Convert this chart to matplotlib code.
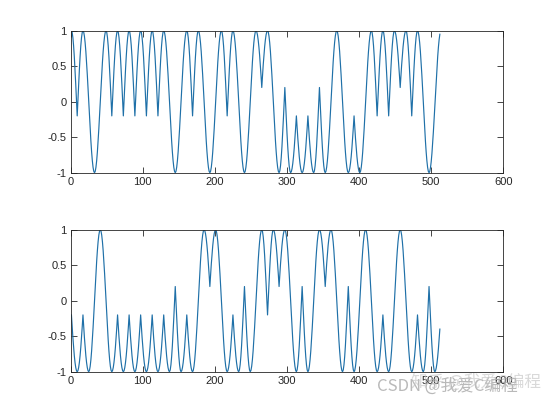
import numpy as np
import matplotlib
matplotlib.use("Agg")
import matplotlib.pyplot as plt

plt.rcParams['axes.unicode_minus'] = False
plt.rcParams['font.family'] = ['Liberation Sans', 'DejaVu Sans']

# Turning points (sample index, value)
top_x = [1, 9, 17, 33, 49, 57, 65, 73, 81, 89, 97, 105, 113, 121, 129, 145, 161, 169,
         177, 193, 209, 217, 225, 241, 257, 265, 273, 289, 297, 305, 313, 321, 329, 337,
         345, 353, 369, 385, 393, 401, 417, 425, 433, 441, 449, 457, 465, 473, 481, 497, 512]
top_y = [1, -0.2, 1, -1, 1, -0.2, 1, -0.2, 1, -0.2, 1, -0.2, 1, -0.2, 1, -1, 1, -0.2,
         1, -1, 1, -0.2, 1, -1, 1, 0.2, 1, -1, 0.2, -1, -0.2, -1, -0.2, -1,
         0.2, -1, 1, -1, -0.2, -1, 1, -0.2, 1, -0.2, 1, 0.2, 1, -0.2, 1, -1, 0.95]

bot_x = [1, 9, 17, 25, 41, 57, 65, 73, 81, 89, 97, 105, 113, 121, 129, 137, 145, 153,
         161, 169, 185, 193, 201, 217, 225, 233, 241, 249, 265, 273, 281, 289, 297, 313,
         321, 329, 345, 353, 361, 377, 385, 393, 409, 425, 433, 441, 457, 473, 481, 489,
         497, 505, 512]
bot_y = [-0.2, -1, -0.2, -1, 1, -1, -0.2, -1, -0.2, -1, -0.2, -1, -0.2, -1, -0.2, -1, 0.2, -1,
         -0.2, -1, 1, 0.2, 1, -1, -0.2, -1, 0.2, -1, 1, -0.2, 1, 0.2, 1, -1,
         0.2, -1, 1, 0.2, 1, -1, 0.2, -1, 1, -1, -0.2, -1, 1, -1, -0.2, -1,
         0.2, -1, -0.4]

x_ticks = [0, 100, 200, 300, 400, 500, 600]
y_ticks = [-1, -0.5, 0, 0.5, 1]
y_ticklabels = ['-1', '-0.5', '0', '0.5', '1']

LINE = '#1f70a8'
AXC = '#262626'


def curve(xs, ys):
    n = np.arange(xs[0], xs[-1] + 1)
    ph = np.arccos(np.clip(ys, -1, 1))
    return n, np.cos(np.interp(n, xs, ph))


fig = plt.figure(figsize=(5.46, 4.07), dpi=100)
ax1 = fig.add_axes([0.1295, 0.5757, 0.7923, 0.3489])
ax2 = fig.add_axes([0.1295, 0.0867, 0.7923, 0.3489])

for ax, xs, ys in ((ax1, top_x, top_y), (ax2, bot_x, bot_y)):
    n, v = curve(xs, ys)
    ax.plot(n, v, color=LINE, lw=0.85)
    ax.set_xlim(0, 600)
    ax.set_ylim(-1, 1)
    ax.set_xticks(x_ticks)
    ax.set_xticklabels([str(t) for t in x_ticks])
    ax.set_yticks(y_ticks)
    ax.set_yticklabels(y_ticklabels)
    ax.tick_params(direction='in', length=4, width=0.6, top=True, right=True,
                   labelsize=8, colors=AXC, pad=3)
    for s in ax.spines.values():
        s.set_color(AXC)
        s.set_linewidth(0.6)

fig.text(377 / 546, 1 - 386 / 407, 'CSDN @我爱C编程', fontsize=12, color='#a8a8a8',
         alpha=0.8, va='center', ha='left', family=['Noto Sans CJK SC', 'DejaVu Sans'])
fig.text(411 / 546, 1 - 382 / 407, '知乎 @我爱C编程', fontsize=12, color='#c0c0c0',
         alpha=0.6, va='center', ha='left', family=['Noto Sans CJK SC', 'DejaVu Sans'])

fig.savefig('out.png', dpi=100)
